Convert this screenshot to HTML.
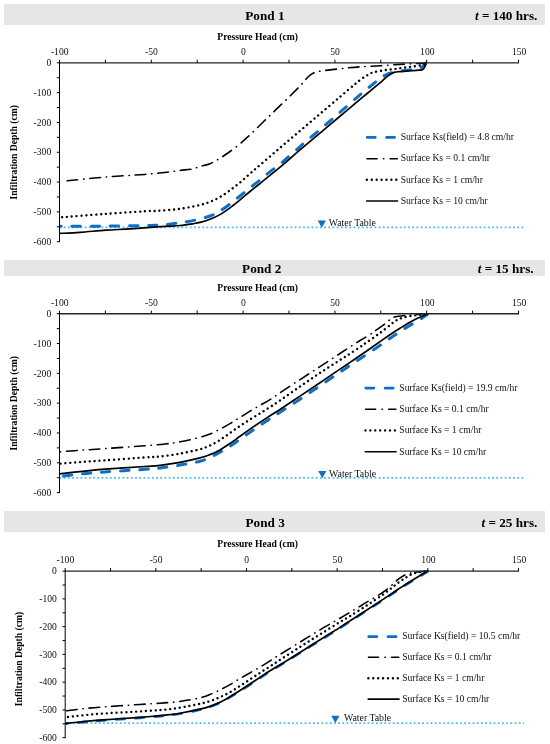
<!DOCTYPE html>
<html lang="en"><head><meta charset="utf-8"><title>Pressure head profiles – Ponds 1–3</title>
<style>
html,body{margin:0;padding:0;background:#fff;}
body{width:550px;height:744px;overflow:hidden;}
svg{display:block;font-family:"Liberation Serif", serif;}
.s{font-size:9.6px;fill:#111;}
.b{font-size:9.6px;font-weight:bold;fill:#000;}
.t{font-size:13.2px;font-weight:bold;fill:#000;}
.ax{stroke:#000;stroke-width:1;fill:none;}
.cv{fill:none;stroke:#000;stroke-linejoin:round;}
.solid{stroke-width:1.7;stroke-linecap:butt;}
.dotted{stroke-width:2.4;stroke-linecap:round;stroke-dasharray:0.01 4.87;}
.dashdot{stroke-width:1.55;stroke-linecap:round;stroke-dasharray:10.7 5.85 0.4 5.75;}
.blue{stroke:#0f6fc6;stroke-width:3;stroke-linecap:round;stroke-dasharray:8.3 10.8;}
.wt{stroke:#45bdf4;stroke-width:1.7;stroke-dasharray:1.8 2.4;fill:none;}
</style></head><body>
<svg width="550" height="744" viewBox="0 0 550 744" role="img" aria-label="Pressure head versus infiltration depth for Ponds 1 to 3">
<rect width="550" height="744" fill="#fff"/>
<g id="pond1">
<rect x="4" y="4" width="541" height="21" fill="#e6e6e6"/>
<text class="t" x="264.9" y="19.8" text-anchor="middle">Pond 1</text>
<text class="t" x="537.4" y="19.8" text-anchor="end"><tspan font-style="italic">t</tspan> = 140 hrs.</text>
<text class="b" x="257.6" y="40" text-anchor="middle">Pressure Head (cm)</text>
<text class="b" transform="translate(17 152.3) rotate(-90)" text-anchor="middle">Infiltration Depth (cm)</text>
<path class="wt" d="M59.5 227.39H524"/>
<clipPath id="cp1"><rect x="59.5" y="60.8" width="469" height="182.9"/></clipPath>
<g clip-path="url(#cp1)">
<path class="cv blue" d="M59.5 226.35C66.25 226.32 86.58 226.26 100 226.14C113.42 226.03 130.53 225.83 140 225.66C149.47 225.49 152.47 225.31 156.8 225.13C161.13 224.94 162.13 224.97 166 224.56C169.87 224.15 175.33 223.38 180 222.68C184.67 221.99 189 221.49 194 220.38C199 219.26 205.67 217.56 210 216C214.33 214.44 216.67 213 220 211C223.33 209 226.67 206.5 230 204C233.33 201.5 236.67 198.67 240 196C243.33 193.33 246.67 190.67 250 188C253.33 185.33 256.67 182.72 260 180C263.33 177.28 266.33 174.58 270 171.67C273.67 168.75 277 166.7 282 162.51C287 158.33 293.67 152.03 300 146.55C306.33 141.06 313.33 135.29 320 129.58C326.67 123.87 333.33 118.09 340 112.3C346.67 106.51 354.25 99.75 360 94.85C365.75 89.94 371.17 85.64 374.5 82.88C377.83 80.12 378.42 79.49 380 78.29C381.58 77.09 382.67 76.44 384 75.7C385.33 74.96 386.67 74.38 388 73.87C389.33 73.36 390 73.08 392 72.63C394 72.18 397.08 71.62 400 71.17C402.92 70.71 406.5 70.31 409.5 69.89C412.5 69.46 416 69.06 418 68.62C420 68.17 420.53 67.77 421.5 67.2C422.47 66.63 423.15 65.87 423.8 65.2C424.45 64.53 425.13 63.53 425.4 63.2" stroke-dashoffset="6.5"/>
<path class="cv dashdot" d="M67.2 180.85C73.5 180.22 92.03 178.12 105 177.04C117.97 175.96 135 175.17 145 174.4C155 173.63 159.17 173.06 165 172.4C170.83 171.74 175.43 171.02 180 170.44C184.57 169.86 189.07 169.58 192.4 168.91C195.73 168.25 197.07 167.3 200 166.44C202.93 165.57 206.67 165.09 210 163.73C213.33 162.37 216.67 160.32 220 158.28C223.33 156.24 226.67 153.93 230 151.5C233.33 149.07 236.67 146.5 240 143.72C243.33 140.94 245 139.54 250 134.81C255 130.09 263.33 121.82 270 115.38C276.67 108.93 285 101.02 290 96.12C295 91.23 297.67 88.44 300 86C302.33 83.56 302.67 82.99 304 81.48C305.33 79.98 306.67 78.22 308 76.97C309.33 75.71 310.67 74.76 312 73.95C313.33 73.14 314.33 72.64 316 72.13C317.67 71.63 319.67 71.28 322 70.91C324.33 70.53 326.17 70.32 330 69.88C333.83 69.43 340 68.73 345 68.21C350 67.7 354.17 67.18 360 66.79C365.83 66.39 373.33 66.24 380 65.84C386.67 65.43 393.33 64.78 400 64.38C406.67 63.97 415.58 63.64 420 63.4C424.42 63.16 425.42 63.01 426.5 62.93"/>
<path class="cv dotted" d="M62.1 217.2C69.25 216.66 91.18 214.92 105 213.94C118.82 212.96 135.83 211.84 145 211.3C154.17 210.76 154.17 211.13 160 210.72C165.83 210.3 173.33 209.76 180 208.81C186.67 207.85 195 206.17 200 205C205 203.83 206.67 203.13 210 201.8C213.33 200.47 216.67 198.93 220 197C223.33 195.07 226.67 192.65 230 190.23C233.33 187.82 236.67 185.27 240 182.5C243.33 179.73 246.67 176.52 250 173.61C253.33 170.7 255 169.34 260 165.05C265 160.75 273.33 153.56 280 147.86C286.67 142.16 293.33 136.53 300 130.86C306.67 125.19 313.33 119.53 320 113.86C326.67 108.19 334.17 101.82 340 96.86C345.83 91.9 351.33 87.17 355 84.11C358.67 81.05 360.25 79.8 362 78.5C363.75 77.2 364.5 76.93 365.5 76.3C366.5 75.67 367.17 75.18 368 74.7C368.83 74.22 369.63 73.8 370.5 73.4C371.37 73 371.95 72.65 373.2 72.3C374.45 71.95 376.32 71.62 378 71.3C379.68 70.98 381.63 70.65 383.3 70.4C384.97 70.15 386.4 70 388 69.8C389.6 69.6 391.23 69.42 392.9 69.2C394.57 68.98 396.42 68.72 398 68.5C399.58 68.28 400.73 68.12 402.4 67.9C404.07 67.68 406.23 67.43 408 67.2C409.77 66.97 411.3 66.75 413 66.5C414.7 66.25 416.53 66.02 418.2 65.7C419.87 65.38 421.65 65.02 423 64.6C424.35 64.18 425.75 63.43 426.3 63.2"/>
<path class="cv solid" d="M59.5 233.4C62.92 233.22 72.27 232.83 80 232.3C87.73 231.77 97.57 230.79 105.9 230.21C114.23 229.64 121.52 229.39 130 228.84C138.48 228.28 150.13 227.32 156.8 226.88C163.47 226.45 166.13 226.45 170 226.22C173.87 225.99 176.27 225.93 180 225.52C183.73 225.12 189.07 224.31 192.4 223.79C195.73 223.27 197.07 223.17 200 222.4C202.93 221.64 206.67 220.51 210 219.21C213.33 217.91 216.67 216.5 220 214.62C223.33 212.73 226.67 210.35 230 207.9C233.33 205.45 236.67 202.63 240 199.9C243.33 197.17 246.67 194.23 250 191.5C253.33 188.77 256.67 186.2 260 183.5C263.33 180.8 266.5 178.14 270 175.29C273.5 172.44 276 170.63 281 166.4C286 162.17 293.5 155.45 300 149.9C306.5 144.35 313.33 138.68 320 133.07C326.67 127.46 333.33 121.85 340 116.24C346.67 110.63 354.83 103.74 360 99.41C365.17 95.09 367.37 93.33 371 90.31C374.63 87.29 379.47 83.31 381.8 81.3C384.13 79.29 383.97 79.14 385 78.24C386.03 77.35 387.17 76.54 388 75.91C388.83 75.29 389.42 74.88 390 74.5C390.58 74.12 391 73.92 391.5 73.65C392 73.38 392.42 73.14 393 72.9C393.58 72.66 394.17 72.39 395 72.2C395.83 72.01 396.57 71.89 398 71.74C399.43 71.59 401.27 71.45 403.6 71.28C405.93 71.1 409.43 70.89 412 70.7C414.57 70.51 417.4 70.29 419 70.15C420.6 70.01 420.95 69.99 421.6 69.85C422.25 69.71 422.52 69.57 422.9 69.3C423.28 69.03 423.52 68.78 423.9 68.2C424.28 67.62 424.8 66.63 425.2 65.8C425.6 64.97 426.12 63.63 426.3 63.2"/>
</g>
<path d="M59 62.8H519" stroke="#262626" stroke-width="1.35" fill="none"/>
<path class="ax" d="M59.5 62.8V242.2"/>
<path class="ax" d="M59.5 62.8v-3.1M105.4 62.8v-3.1M151.3 62.8v-3.1M197.2 62.8v-3.1M243.1 62.8v-3.1M289 62.8v-3.1M334.9 62.8v-3.1M380.8 62.8v-3.1M426.7 62.8v-3.1M472.6 62.8v-3.1M518.5 62.8v-3.1M59.5 62.8h-2.7M59.5 77.71h-2.7M59.5 92.62h-2.7M59.5 107.52h-2.7M59.5 122.43h-2.7M59.5 137.34h-2.7M59.5 152.25h-2.7M59.5 167.16h-2.7M59.5 182.07h-2.7M59.5 196.97h-2.7M59.5 211.88h-2.7M59.5 226.79h-2.7M59.5 241.7h-2.7"/>
<text class="s" x="59.7" y="54.6" text-anchor="middle">-100</text>
<text class="s" x="151.5" y="54.6" text-anchor="middle">-50</text>
<text class="s" x="243.3" y="54.6" text-anchor="middle">0</text>
<text class="s" x="335.1" y="54.6" text-anchor="middle">50</text>
<text class="s" x="427.3" y="54.6" text-anchor="middle">100</text>
<text class="s" x="519.1" y="54.6" text-anchor="middle">150</text>
<text class="s" x="51.2" y="66" text-anchor="end">0</text>
<text class="s" x="51.2" y="95.82" text-anchor="end">-100</text>
<text class="s" x="51.2" y="125.63" text-anchor="end">-200</text>
<text class="s" x="51.2" y="155.45" text-anchor="end">-300</text>
<text class="s" x="51.2" y="185.27" text-anchor="end">-400</text>
<text class="s" x="51.2" y="215.08" text-anchor="end">-500</text>
<text class="s" x="51.2" y="244.9" text-anchor="end">-600</text>
<path d="M317.7 220.39h8.2l-4.1 7.3z" fill="#0f6fc6"/>
<text class="s" style="font-size:9.8px" x="328.8" y="226.49">Water Table</text>
<g fill="none" stroke="#000">
<path d="M367.2 137.4h8.1M386.5 137.4h8.1" stroke="#0f6fc6" stroke-width="2.7" stroke-linecap="round"/>
<path d="M366.95 158.65h10.1M383.45 158.65h0.4M390.1 158.65h7.2" stroke-width="1.55" stroke-linecap="round"/>
<path d="M366.85 179.7h30" stroke-width="2.4" stroke-linecap="round" stroke-dasharray="0.01 4.9"/>
<path d="M366.1 201h32" stroke-width="1.6"/>
</g>
<text class="s" x="400.7" y="140.1">Surface Ks(field) = 4.8 cm/hr</text>
<text class="s" x="400.7" y="161.45">Surface Ks = 0.1 cm/hr</text>
<text class="s" x="400.7" y="182.5">Surface Ks = 1 cm/hr</text>
<text class="s" x="400.7" y="203.8">Surface Ks = 10 cm/hr</text>
</g>
<g id="pond2">
<rect x="4" y="260" width="541" height="16" fill="#e6e6e6"/>
<text class="t" x="261.7" y="272.9" text-anchor="middle">Pond 2</text>
<text class="t" x="533.6" y="272.9" text-anchor="end"><tspan font-style="italic">t</tspan> = 15 hrs.</text>
<text class="b" x="257.6" y="291.1" text-anchor="middle">Pressure Head (cm)</text>
<text class="b" transform="translate(17 403.3) rotate(-90)" text-anchor="middle">Infiltration Depth (cm)</text>
<path class="wt" d="M59.5 477.89H524"/>
<clipPath id="cp2"><rect x="59.5" y="311.7" width="469" height="182.9"/></clipPath>
<g clip-path="url(#cp2)">
<path class="cv blue" d="M59.5 476.45C62.92 476.05 72.42 474.83 80 474.07C87.58 473.3 94.17 472.67 105 471.88C115.83 471.1 135.83 470 145 469.36C154.17 468.71 154.17 468.72 160 468C165.83 467.28 173.33 466.19 180 465.07C186.67 463.94 195 462.54 200 461.25C205 459.95 206.67 458.81 210 457.31C213.33 455.81 216.67 454.08 220 452.25C223.33 450.42 226.67 448.46 230 446.3C233.33 444.14 236.67 441.6 240 439.26C243.33 436.93 246.67 434.63 250 432.3C253.33 429.97 256.67 427.54 260 425.28C263.33 423.03 267.33 420.48 270 418.76C272.67 417.03 271 418.19 276 414.93C281 411.67 292.67 404.05 300 399.2C307.33 394.35 313.33 390.33 320 385.83C326.67 381.33 333.92 376.34 340 372.2C346.08 368.06 350.47 365.04 356.5 361.01C362.53 356.99 370.95 351.61 376.2 348.05C381.45 344.5 384.75 341.94 388 339.68C391.25 337.42 393.13 336.21 395.7 334.49C398.27 332.77 400.68 331.07 403.4 329.34C406.12 327.62 409.18 325.79 412 324.14C414.82 322.48 418.3 320.65 420.3 319.41C422.3 318.17 422.83 317.52 424 316.7C425.17 315.88 426.75 314.87 427.3 314.5" stroke-dashoffset="15"/>
<path class="cv dashdot" d="M59.5 451.8C62.92 451.55 72.42 450.84 80 450.3C87.58 449.76 94.17 449.31 105 448.56C115.83 447.81 135 446.56 145 445.8C155 445.04 159.17 444.67 165 444C170.83 443.33 174.17 442.92 180 441.8C185.83 440.68 195 438.59 200 437.29C205 435.99 206.67 435.33 210 433.98C213.33 432.63 216.67 430.93 220 429.2C223.33 427.47 226.67 425.58 230 423.63C233.33 421.68 236.67 419.59 240 417.51C243.33 415.44 246.67 413.22 250 411.2C253.33 409.18 256.67 407.33 260 405.4C263.33 403.47 266.67 401.68 270 399.6C273.33 397.52 275 396.23 280 392.9C285 389.57 293.33 383.98 300 379.6C306.67 375.22 313.33 370.95 320 366.6C326.67 362.25 333.33 357.85 340 353.5C346.67 349.15 355 343.63 360 340.5C365 337.37 367.5 336.3 370 334.7C372.5 333.1 372.62 332.63 375 330.9C377.38 329.17 381.93 326.06 384.3 324.3C386.67 322.54 387.83 321.4 389.2 320.32C390.57 319.24 391.45 318.4 392.5 317.8C393.55 317.2 394.25 316.98 395.5 316.7C396.75 316.42 398.52 316.28 400 316.1C401.48 315.92 402.73 315.78 404.4 315.6C406.07 315.42 408.07 315.18 410 315C411.93 314.82 414 314.65 416 314.5C418 314.35 420.17 314.22 422 314.1C423.83 313.98 426.17 313.85 427 313.8" stroke-dashoffset="15.55"/>
<path class="cv dotted" d="M60.6 463.61C63.83 463.36 72.6 462.64 80 462.1C87.4 461.56 94.17 461.12 105 460.34C115.83 459.57 135.83 458.1 145 457.46C154.17 456.82 154.17 457.16 160 456.52C165.83 455.88 173.33 454.82 180 453.6C186.67 452.38 195 450.57 200 449.22C205 447.87 206.67 447.03 210 445.49C213.33 443.95 216.67 442.07 220 439.98C223.33 437.89 226.67 435.3 230 432.96C233.33 430.62 236.67 428.21 240 425.96C243.33 423.71 246.67 421.57 250 419.46C253.33 417.36 256.67 415.4 260 413.34C263.33 411.28 266.67 409.24 270 407.1C273.33 404.96 275 403.93 280 400.5C285 397.07 293.33 391.1 300 386.5C306.67 381.9 313.33 377.32 320 372.9C326.67 368.48 335 363.22 340 360C345 356.78 346.67 355.77 350 353.6C353.33 351.43 357.27 348.83 360 347C362.73 345.17 363.9 344.33 366.4 342.6C368.9 340.87 372.3 338.54 375 336.6C377.7 334.66 379.97 332.98 382.6 330.96C385.23 328.94 388.8 326.08 390.8 324.48C392.8 322.88 393.23 322.26 394.6 321.37C395.97 320.47 397.72 319.69 399 319.1C400.28 318.51 400.85 318.22 402.3 317.8C403.75 317.38 405.88 316.95 407.7 316.6C409.52 316.25 411.32 315.98 413.2 315.7C415.08 315.42 417.27 315.13 419 314.9C420.73 314.67 422.27 314.47 423.6 314.3C424.93 314.13 426.43 313.97 427 313.9"/>
<path class="cv solid" d="M59.5 473.85C62.92 473.48 72.42 472.38 80 471.6C87.58 470.82 94.17 470.03 105 469.18C115.83 468.33 135.83 467.14 145 466.5C154.17 465.86 154.17 466.03 160 465.34C165.83 464.64 173.33 463.57 180 462.34C186.67 461.1 195 459.22 200 457.93C205 456.64 206.67 455.94 210 454.6C213.33 453.26 216.67 451.75 220 449.9C223.33 448.05 226.67 445.77 230 443.5C233.33 441.23 236.67 438.69 240 436.3C243.33 433.91 246.67 431.46 250 429.15C253.33 426.83 256.67 424.62 260 422.4C263.33 420.18 266.67 417.99 270 415.83C273.33 413.67 275 412.74 280 409.45C285 406.16 293.33 400.56 300 396.1C306.67 391.64 313.33 387.16 320 382.67C326.67 378.18 335 372.52 340 369.14C345 365.76 346.67 364.69 350 362.42C353.33 360.15 357.27 357.37 360 355.5C362.73 353.63 362.82 353.67 366.4 351.2C369.98 348.72 377.33 343.55 381.5 340.63C385.67 337.71 387.93 335.99 391.4 333.7C394.87 331.41 399.65 328.54 402.3 326.9C404.95 325.26 405.48 324.91 407.3 323.86C409.12 322.81 411.58 321.46 413.2 320.58C414.82 319.7 415.73 319.21 417 318.6C418.27 317.99 419.63 317.45 420.8 316.92C421.97 316.39 422.9 315.92 424 315.45C425.1 314.98 426.83 314.33 427.4 314.1"/>
</g>
<path d="M59 313.7H519" stroke="#262626" stroke-width="1.35" fill="none"/>
<path class="ax" d="M59.5 313.7V493.1"/>
<path class="ax" d="M59.5 313.7v-3.1M105.4 313.7v-3.1M151.3 313.7v-3.1M197.2 313.7v-3.1M243.1 313.7v-3.1M289 313.7v-3.1M334.9 313.7v-3.1M380.8 313.7v-3.1M426.7 313.7v-3.1M472.6 313.7v-3.1M518.5 313.7v-3.1M59.5 313.7h-2.7M59.5 328.61h-2.7M59.5 343.52h-2.7M59.5 358.43h-2.7M59.5 373.33h-2.7M59.5 388.24h-2.7M59.5 403.15h-2.7M59.5 418.06h-2.7M59.5 432.97h-2.7M59.5 447.88h-2.7M59.5 462.78h-2.7M59.5 477.69h-2.7M59.5 492.6h-2.7"/>
<text class="s" x="59.7" y="305.5" text-anchor="middle">-100</text>
<text class="s" x="151.5" y="305.5" text-anchor="middle">-50</text>
<text class="s" x="243.3" y="305.5" text-anchor="middle">0</text>
<text class="s" x="335.1" y="305.5" text-anchor="middle">50</text>
<text class="s" x="427.3" y="305.5" text-anchor="middle">100</text>
<text class="s" x="519.1" y="305.5" text-anchor="middle">150</text>
<text class="s" x="51.2" y="316.9" text-anchor="end">0</text>
<text class="s" x="51.2" y="346.72" text-anchor="end">-100</text>
<text class="s" x="51.2" y="376.53" text-anchor="end">-200</text>
<text class="s" x="51.2" y="406.35" text-anchor="end">-300</text>
<text class="s" x="51.2" y="436.17" text-anchor="end">-400</text>
<text class="s" x="51.2" y="465.98" text-anchor="end">-500</text>
<text class="s" x="51.2" y="495.8" text-anchor="end">-600</text>
<path d="M318.2 470.89h8.2l-4.1 7.3z" fill="#0f6fc6"/>
<text class="s" style="font-size:9.8px" x="329.1" y="476.99">Water Table</text>
<g fill="none" stroke="#000">
<path d="M365.8 388.1h8.1M385.1 388.1h8.1" stroke="#0f6fc6" stroke-width="2.7" stroke-linecap="round"/>
<path d="M365.55 409.3h10.1M382.05 409.3h0.4M388.7 409.3h7.2" stroke-width="1.55" stroke-linecap="round"/>
<path d="M365.45 430.4h30" stroke-width="2.4" stroke-linecap="round" stroke-dasharray="0.01 4.9"/>
<path d="M364.7 451.7h32" stroke-width="1.6"/>
</g>
<text class="s" x="399.3" y="390.8">Surface Ks(field) = 19.9 cm/hr</text>
<text class="s" x="399.3" y="412.1">Surface Ks = 0.1 cm/hr</text>
<text class="s" x="399.3" y="433.2">Surface Ks = 1 cm/hr</text>
<text class="s" x="399.3" y="454.5">Surface Ks = 10 cm/hr</text>
</g>
<g id="pond3">
<rect x="4" y="511" width="541" height="21.3" fill="#e6e6e6"/>
<text class="t" x="265.15" y="526.5" text-anchor="middle">Pond 3</text>
<text class="t" x="537.4" y="526.5" text-anchor="end"><tspan font-style="italic">t</tspan> = 25 hrs.</text>
<text class="b" x="257.6" y="547" text-anchor="middle">Pressure Head (cm)</text>
<text class="b" transform="translate(21.5 659) rotate(-90)" text-anchor="middle">Infiltration Depth (cm)</text>
<path class="wt" d="M65.2 723.22H524"/>
<clipPath id="cp3"><rect x="65.2" y="569.15" width="463.3" height="170.55"/></clipPath>
<g clip-path="url(#cp3)">
<path class="cv blue" d="M65.2 723.76C67.67 723.54 74.2 723 80 722.48C85.8 721.95 90 721.38 100 720.6C110 719.82 130 718.55 140 717.8C150 717.04 155 716.5 160 716.05C165 715.6 166.67 715.48 170 715.1C173.33 714.71 175 714.63 180 713.73C185 712.82 195 710.8 200 709.65C205 708.5 206.67 707.98 210 706.83C213.33 705.68 216.67 704.36 220 702.75C223.33 701.14 226.67 699.14 230 697.18C233.33 695.22 236.67 693.12 240 691.01C243.33 688.9 246.67 686.72 250 684.52C253.33 682.32 256.67 680.03 260 677.82C263.33 675.61 266.22 673.61 270 671.25C273.78 668.89 276.33 667.57 282.7 663.65C289.07 659.73 299.72 653.05 308.2 647.75C316.68 642.45 328.3 635.17 333.6 631.85C338.9 628.53 332.57 632.65 340 627.85C347.43 623.05 367.6 609.98 378.2 603.05C388.8 596.12 395.35 591.52 403.6 586.25C411.85 580.98 423.68 573.92 427.7 571.45" stroke-dashoffset="6" style="stroke-width:2.7"/>
<path class="cv dashdot" d="M66.5 710.71C68.75 710.43 74.42 709.65 80 709.07C85.58 708.48 90 707.97 100 707.2C110 706.43 130 705.11 140 704.44C150 703.78 155 703.54 160 703.2C165 702.86 166.67 702.7 170 702.4C173.33 702.1 175 702.16 180 701.4C185 700.64 195 699.02 200 697.86C205 696.69 206.67 695.75 210 694.41C213.33 693.08 216.67 691.5 220 689.86C223.33 688.22 226.67 686.46 230 684.57C233.33 682.67 236.67 680.47 240 678.51C243.33 676.56 246.67 674.73 250 672.83C253.33 670.93 256.67 669.1 260 667.11C263.33 665.11 266.67 662.99 270 660.89C273.33 658.78 275 657.58 280 654.46C285 651.34 293.33 646.26 300 642.15C306.67 638.04 313.33 633.78 320 629.8C326.67 625.82 333.63 621.99 340 618.25C346.37 614.51 353.8 610 358.2 607.37C362.6 604.74 362.32 604.94 366.4 602.45C370.48 599.96 378.77 595.02 382.7 592.42C386.63 589.81 387.82 588.64 390 586.8C392.18 584.96 394.3 582.71 395.8 581.35C397.3 580 397.9 579.5 399 578.67C400.1 577.84 401.4 576.99 402.4 576.38C403.4 575.76 404.18 575.37 405 574.98C405.82 574.58 406.3 574.36 407.3 574.01C408.3 573.67 409.63 573.2 411 572.9C412.37 572.6 414 572.4 415.5 572.2C417 572 418.37 571.87 420 571.7C421.63 571.53 424.05 571.32 425.3 571.2C426.55 571.08 427.13 571.03 427.5 571"/>
<path class="cv dotted" d="M68 717C70 716.78 74.67 716.2 80 715.66C85.33 715.12 90 714.47 100 713.77C110 713.06 130 712.04 140 711.42C150 710.81 155 710.46 160 710.08C165 709.71 166.67 709.56 170 709.15C173.33 708.74 175 708.54 180 707.65C185 706.76 195 704.89 200 703.8C205 702.71 206.67 702.23 210 701.12C213.33 700.01 216.67 698.62 220 697.13C223.33 695.65 226.67 694.08 230 692.2C233.33 690.32 236.67 688.02 240 685.88C243.33 683.74 246.67 681.54 250 679.36C253.33 677.19 256.67 674.99 260 672.84C263.33 670.7 266.67 668.65 270 666.48C273.33 664.3 275 663.05 280 659.8C285 656.55 293.33 651.21 300 646.96C306.67 642.72 313.33 638.49 320 634.33C326.67 630.16 335 625.03 340 621.97C345 618.92 345.6 618.71 350 616C354.4 613.29 360.95 609.25 366.4 605.7C371.85 602.15 378.33 597.78 382.7 594.7C387.07 591.62 389.87 589.29 392.6 587.19C395.33 585.1 397.37 583.41 399.1 582.13C400.83 580.84 401.92 580.21 403 579.47C404.08 578.74 404.77 578.29 405.6 577.74C406.43 577.19 407.17 576.69 408 576.2C408.83 575.71 409.6 575.26 410.6 574.78C411.6 574.3 412.65 573.74 414 573.33C415.35 572.91 417.2 572.58 418.7 572.29C420.2 572 421.53 571.8 423 571.6C424.47 571.4 426.75 571.18 427.5 571.1"/>
<path class="cv solid" d="M65.2 723.31C67.67 723.09 74.2 722.55 80 722.02C85.8 721.5 90 720.93 100 720.15C110 719.37 130 718.1 140 717.35C150 716.59 155 716.05 160 715.6C165 715.15 166.67 715.03 170 714.65C173.33 714.26 175 714.18 180 713.28C185 712.37 195 710.35 200 709.2C205 708.05 206.67 707.53 210 706.38C213.33 705.23 216.67 703.91 220 702.3C223.33 700.69 226.67 698.69 230 696.73C233.33 694.77 236.67 692.67 240 690.56C243.33 688.45 246.67 686.27 250 684.07C253.33 681.87 256.67 679.58 260 677.37C263.33 675.16 266.22 673.16 270 670.8C273.78 668.44 276.33 667.12 282.7 663.2C289.07 659.28 299.72 652.6 308.2 647.3C316.68 642 328.3 634.72 333.6 631.4C338.9 628.08 332.57 632.2 340 627.4C347.43 622.6 367.6 609.53 378.2 602.6C388.8 595.67 395.35 591.07 403.6 585.8C411.85 580.53 423.68 573.47 427.7 571"/>
</g>
<path d="M64.7 571.15H519" stroke="#262626" stroke-width="1.35" fill="none"/>
<path class="ax" d="M65.2 571.15V738.2" stroke-width="1.3"/>
<path class="ax" d="M65.2 571.15v-3.1M110.53 571.15v-3.1M155.86 571.15v-3.1M201.19 571.15v-3.1M246.52 571.15v-3.1M291.85 571.15v-3.1M337.18 571.15v-3.1M382.51 571.15v-3.1M427.84 571.15v-3.1M473.17 571.15v-3.1M518.5 571.15v-3.1M65.2 571.15h-2.7M65.2 585.03h-2.7M65.2 598.91h-2.7M65.2 612.79h-2.7M65.2 626.67h-2.7M65.2 640.55h-2.7M65.2 654.42h-2.7M65.2 668.3h-2.7M65.2 682.18h-2.7M65.2 696.06h-2.7M65.2 709.94h-2.7M65.2 723.82h-2.7M65.2 737.7h-2.7"/>
<text class="s" x="65.4" y="562.95" text-anchor="middle">-100</text>
<text class="s" x="156.06" y="562.95" text-anchor="middle">-50</text>
<text class="s" x="246.72" y="562.95" text-anchor="middle">0</text>
<text class="s" x="337.38" y="562.95" text-anchor="middle">50</text>
<text class="s" x="428.44" y="562.95" text-anchor="middle">100</text>
<text class="s" x="519.1" y="562.95" text-anchor="middle">150</text>
<text class="s" x="56.9" y="574.35" text-anchor="end">0</text>
<text class="s" x="56.9" y="602.11" text-anchor="end">-100</text>
<text class="s" x="56.9" y="629.87" text-anchor="end">-200</text>
<text class="s" x="56.9" y="657.62" text-anchor="end">-300</text>
<text class="s" x="56.9" y="685.38" text-anchor="end">-400</text>
<text class="s" x="56.9" y="713.14" text-anchor="end">-500</text>
<text class="s" x="56.9" y="740.9" text-anchor="end">-600</text>
<path d="M331.3 715.82h8.2l-4.1 7.3z" fill="#0f6fc6"/>
<text class="s" style="font-size:9.8px" x="344" y="720.92">Water Table</text>
<g fill="none" stroke="#000">
<path d="M368.7 636.7h8.1M388 636.7h8.1" stroke="#0f6fc6" stroke-width="2.7" stroke-linecap="round"/>
<path d="M368.45 657.3h10.1M384.95 657.3h0.4M391.6 657.3h7.2" stroke-width="1.55" stroke-linecap="round"/>
<path d="M368.35 678.3h30" stroke-width="2.4" stroke-linecap="round" stroke-dasharray="0.01 4.9"/>
<path d="M367.6 699.1h32" stroke-width="1.6"/>
</g>
<text class="s" x="402.2" y="639.4">Surface Ks(field) = 10.5 cm/hr</text>
<text class="s" x="402.2" y="660.1">Surface Ks = 0.1 cm/hr</text>
<text class="s" x="402.2" y="681.1">Surface Ks = 1 cm/hr</text>
<text class="s" x="402.2" y="701.9">Surface Ks = 10 cm/hr</text>
</g>
</svg>
</body></html>
